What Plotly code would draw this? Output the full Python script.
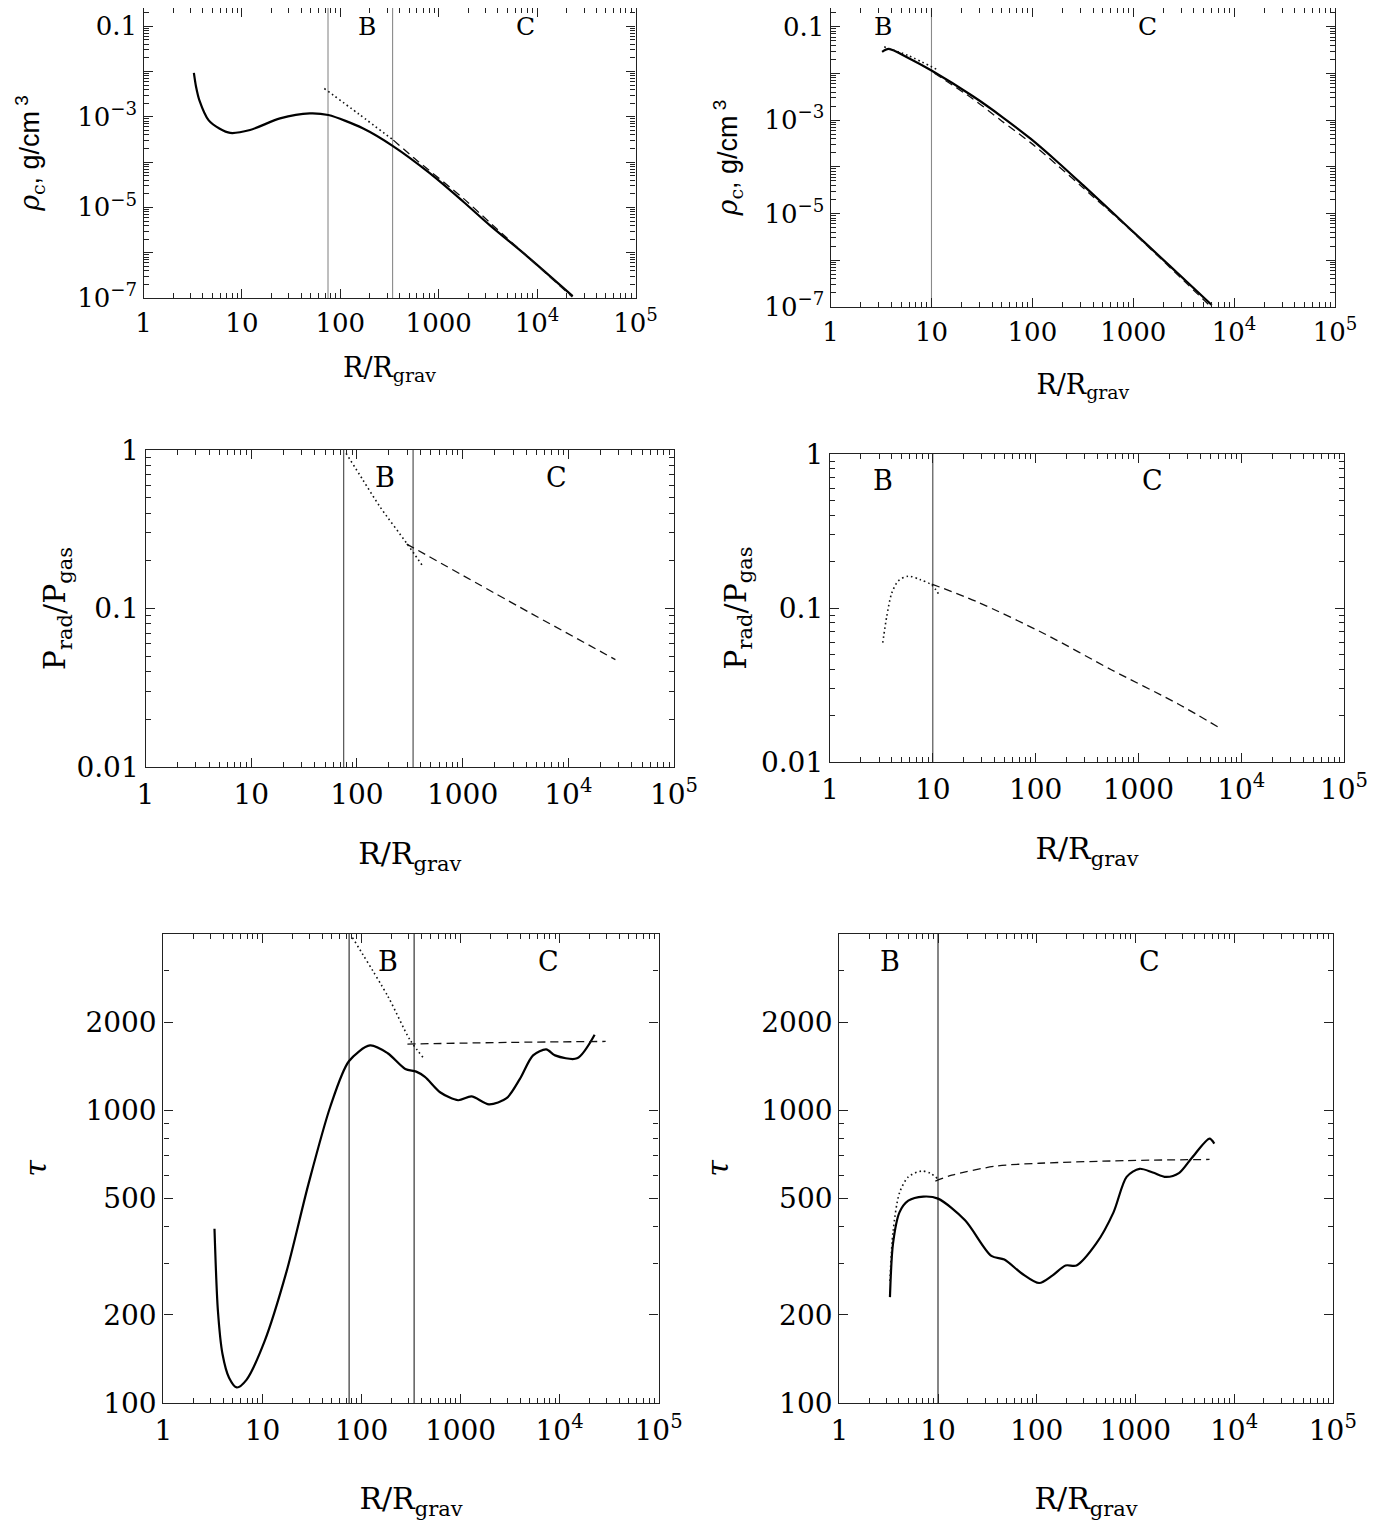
import math
import plotly.graph_objects as go
from plotly.subplots import make_subplots

# ---- data ----
# panel (a): central density, left column (two boundaries), right column (one boundary)
rho_l_r = [3.25, 3.42, 3.7, 4.6, 5.9, 7.6, 12.1, 24.4, 49, 75.5, 171, 343, 817, 1780, 3320, 8100, 23000]
rho_l = [9.3e-3, 4.6e-3, 2.3e-3, 8.3e-4, 5.5e-4, 4.4e-4, 5.1e-4, 9.2e-4, 1.19e-3, 1.09e-3,
         5.5e-4, 2.25e-4, 5.6e-5, 1.33e-5, 4.0e-6, 8.0e-7, 1.1e-7]
rho_l_dot_r = [68.8, 154, 346]
rho_l_dot = [4.2e-3, 1.15e-3, 3.05e-4]
rho_l_dash_r = [346, 597, 1780, 3320, 22800]
rho_l_dash = [3.05e-4, 1.1e-4, 1.58e-5, 4.6e-6, 1.05e-7]

rho_r_r = [3.24, 3.76, 5.9, 10, 26, 50, 96, 180, 316, 860, 2330, 6000]
rho_r = [0.029, 0.0335, 0.0214, 0.0115, 3.2e-3, 1.18e-3, 4.0e-4, 1.24e-4, 4.1e-5, 5.5e-6, 7.4e-7, 1.1e-7]
rho_r_dot_r = [3.4, 5.9, 11.8]
rho_r_dot = [0.037, 0.024, 0.0116]
rho_r_dash_r = [10.7, 26, 50, 96, 180, 316, 860, 5700]
rho_r_dash = [0.0101, 2.8e-3, 9.5e-4, 3.3e-4, 1.05e-4, 3.6e-5, 5.3e-6, 1.08e-7]

# panel (b): Prad/Pgas
pr_l_dot_r = [79, 114, 165, 296, 420]
pr_l_dot = [0.953, 0.647, 0.439, 0.258, 0.185]
pr_l_dash_r = [296, 4210, 27900]
pr_l_dash = [0.255, 0.095, 0.0476]

pr_r_dot_r = [3.26, 3.56, 3.98, 4.62, 5.78, 7.5, 9.77, 11.6]
pr_r_dot = [0.0595, 0.0878, 0.1245, 0.150, 0.161, 0.153, 0.141, 0.121]
pr_r_dash_r = [9.77, 26.7, 123, 550, 2440, 6220]
pr_r_dash = [0.143, 0.110, 0.0678, 0.0396, 0.0238, 0.0166]

# panel (c): optical depth
tau_l_r = [3.28, 3.55, 3.95, 4.6, 5.5, 6.9, 10.4, 17.5, 29, 48.5, 74.6, 122, 184, 277, 357, 437,
           627, 947, 1290, 1940, 2920, 3980, 5400, 7340, 9000, 15000, 22600]
tau_l = [394, 207, 147, 122, 113, 120, 161, 281, 556, 1030, 1470, 1665, 1566, 1384, 1355, 1301,
         1150, 1082, 1115, 1048, 1100, 1280, 1540, 1614, 1540, 1504, 1812]
tau_l_dot_r = [81, 186, 307, 437]
tau_l_dot = [3890, 2440, 1746, 1486]
tau_l_dash_r = [291, 3000, 29200]
tau_l_dash = [1683, 1705, 1718]

tau_r_r = [3.26, 3.5, 4.07, 5.0, 7.1, 10, 18.8, 34.7, 47, 70.7, 106, 145, 196, 253, 400, 600,
           815, 1100, 1500, 2040, 2760, 3760, 5640, 6300]
tau_r = [230, 350, 448, 491, 507, 499, 421, 318, 309, 277, 257, 273, 295, 295, 350, 448,
         592, 631, 613, 592, 610, 690, 800, 769]
tau_r_dot_r = [3.26, 3.5, 4.07, 5.0, 6.8, 8.3, 10]
tau_r_dot = [261, 384, 522, 592, 620, 610, 582]
tau_r_dash_r = [9.4, 13.8, 38, 106, 815, 5640]
tau_r_dash = [573, 600, 644, 659, 673, 679]

# region boundaries and labels
bounds_left = [75, 340]
bounds_right = [10]
lab_left_x = {"B": 185, "C": 7700}
lab_right_x = {"B": 3.3, "C": 1380}
lab_y = [0.1, 0.67, 3230]

x_ticks = [1, 10, 100, 1000, 1e4, 1e5]
x_text = ["1", "10", "100", "1000", "10<sup>4</sup>", "10<sup>5</sup>"]
rho_ticks = [1e-7, 1e-6, 1e-5, 1e-4, 1e-3, 1e-2, 0.1]
rho_text = ["10<sup>\u22127</sup>", "", "10<sup>\u22125</sup>", "", "10<sup>\u22123</sup>", "", "0.1"]
pr_ticks = [0.01, 0.1, 1]
pr_text = ["0.01", "0.1", "1"]
tau_ticks = [100, 200, 500, 1000, 2000]
tau_text = ["100", "200", "500", "1000", "2000"]
tau_minor = [300, 400, 600, 700, 800, 900, 3000]


def digits(lo, hi):
    return [k * 10 ** d for d in range(lo, hi) for k in range(2, 10)]


SERIF = "DejaVu Serif"
SOLID = dict(color="black", width=2.2)
DASH = dict(color="#111", width=1.3, dash="8px,5px")
DOT = dict(color="#111", width=1.6, dash="1.6px,3px")
VLINE_COL = {1: "#8a8a8a", 2: "#444", 3: "#222"}

fig = make_subplots(rows=3, cols=2)

panels = [
    (1, 1, [(rho_l_r, rho_l, SOLID), (rho_l_dot_r, rho_l_dot, DOT), (rho_l_dash_r, rho_l_dash, DASH)],
     bounds_left, (1e-8, 1)),
    (1, 2, [(rho_r_r, rho_r, SOLID), (rho_r_dot_r, rho_r_dot, DOT), (rho_r_dash_r, rho_r_dash, DASH)],
     bounds_right, (1e-8, 1)),
    (2, 1, [(pr_l_dot_r, pr_l_dot, DOT), (pr_l_dash_r, pr_l_dash, DASH)], bounds_left, (1e-3, 10)),
    (2, 2, [(pr_r_dot_r, pr_r_dot, DOT), (pr_r_dash_r, pr_r_dash, DASH)], bounds_right, (1e-3, 10)),
    (3, 1, [(tau_l_r, tau_l, SOLID), (tau_l_dot_r, tau_l_dot, DOT), (tau_l_dash_r, tau_l_dash, DASH)],
     bounds_left, (10, 1e5)),
    (3, 2, [(tau_r_r, tau_r, SOLID), (tau_r_dot_r, tau_r_dot, DOT), (tau_r_dash_r, tau_r_dash, DASH)],
     bounds_right, (10, 1e5)),
]

for row, col, curves, bounds, ylims in panels:
    for b in bounds:
        fig.add_trace(go.Scatter(x=[b, b], y=list(ylims), mode="lines",
                                 line=dict(color=VLINE_COL[row], width=1.1),
                                 hoverinfo="skip"), row=row, col=col)
    for xs, ys, style in curves:
        fig.add_trace(go.Scatter(x=xs, y=ys, mode="lines", line=dict(style, shape="spline", smoothing=0.8)),
                      row=row, col=col)
    n = 2 * (row - 1) + col
    suffix = "" if n == 1 else str(n)
    labx = lab_left_x if col == 1 else lab_right_x
    for name, xv in labx.items():
        fig.add_annotation(x=math.log10(xv), y=math.log10(lab_y[row - 1]), text=name, showarrow=False,
                           font=dict(family=SERIF, size=25 if row == 1 else 27, color="black"),
                           xref="x" + suffix, yref="y" + suffix)

# subplot frames, in pixels (page draws the div 8px in)
W, H = 1375, 1526
OFF = 8
frames = {
    (1, 1): (143.5, 635.5, 8, 298),
    (1, 2): (830.6, 1335, 8, 307),
    (2, 1): (145.5, 674, 450, 767),
    (2, 2): (830, 1344, 454, 762),
    (3, 1): (163.4, 658.6, 934, 1403),
    (3, 2): (839.3, 1332.8, 934, 1403),
}

axis_common = dict(type="log", showline=True, linecolor="#222", linewidth=1.3, mirror="allticks",
                   ticks="inside", ticklen=9, tickwidth=1, tickcolor="#222", showgrid=False,
                   zeroline=False, tickmode="array", automargin=False)

tick_size = {1: 26, 2: 28, 3: 28}
title_size = {1: 27, 2: 30, 3: 30}
x_standoff = {(1, 1): 20, (1, 2): 28, (2, 1): 33, (2, 2): 33, (3, 1): 42, (3, 2): 42}
ytitle = {
    1: "<i>\u03c1</i><sub>c</sub><span style=\"font-family:'Liberation Sans'\">, g/cm<sup> 3</sup></span>",
    2: "P<sub>rad</sub>/P<sub>gas</sub>",
    3: "<i>\u03c4</i>",
}
y_standoff = {(1, 1): 29, (1, 2): 18, (2, 1): 1, (2, 2): 5, (3, 1): 29, (3, 2): 23}

for (row, col), (x0, x1, y0, y1) in frames.items():
    n = 2 * (row - 1) + col
    xkey = "xaxis" if n == 1 else f"xaxis{n}"
    ykey = "yaxis" if n == 1 else f"yaxis{n}"
    tf = dict(family=SERIF, size=tick_size[row], color="black")
    ttf = dict(family=SERIF, size=title_size[row], color="black")
    xa = dict(axis_common, domain=[(x0 - OFF) / W, (x1 - OFF) / W], range=[0, 5],
              tickvals=x_ticks, ticktext=x_text, tickfont=tf, ticklabelstandoff=2,
              minor=dict(tickvals=digits(0, 5), ticks="inside", ticklen=5, tickcolor="#222"),
              title=dict(text="R/R<sub>grav</sub>", font=ttf, standoff=x_standoff[(row, col)]))
    if row == 1:
        yt, ytx, ymin, yr = rho_ticks, rho_text, digits(-7, 0), [-7, -0.6]
    elif row == 2:
        yt, ytx, ymin, yr = pr_ticks, pr_text, digits(-2, 0), [-2, 0]
    else:
        yt, ytx, ymin, yr = tau_ticks, tau_text, tau_minor, [2, math.log10(4000)]
    ya = dict(axis_common, domain=[max(0, 1 - (y1 - OFF) / H), min(1, 1 - (y0 - OFF) / H)], range=yr,
              tickvals=yt, ticktext=ytx, tickfont=tf,
              minor=dict(tickvals=ymin, ticks="inside", ticklen=5, tickcolor="#222"),
              title=dict(text=ytitle[row], font=ttf, standoff=y_standoff[(row, col)]))
    fig.update_layout({xkey: xa, ykey: ya})

fig.update_layout(width=W, height=H, margin=dict(l=0, r=0, t=0, b=0, pad=0, autoexpand=False),
                  showlegend=False, paper_bgcolor="white", plot_bgcolor="white")

fig.write_html("out.html")
